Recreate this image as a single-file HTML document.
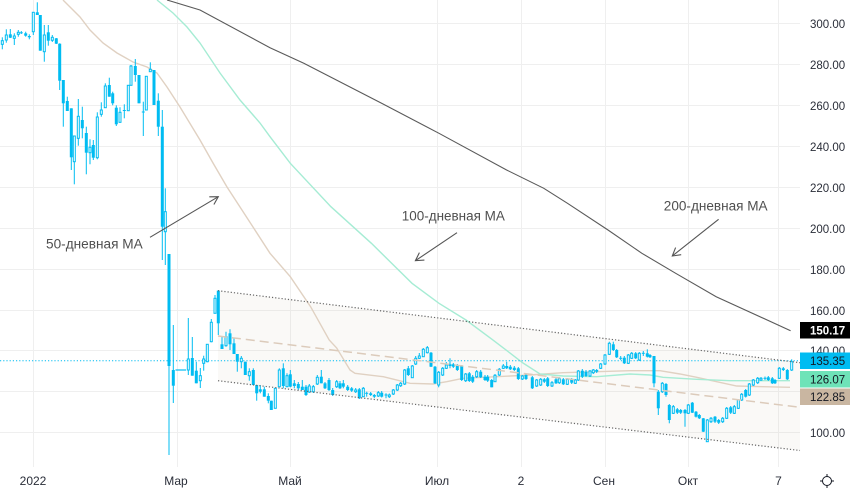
<!DOCTYPE html>
<html><head><meta charset="utf-8">
<style>
html,body{margin:0;padding:0;background:#fff;}
svg{display:block;font-family:"Liberation Sans","DejaVu Sans",sans-serif;}
</style></head>
<body>
<svg id="c" width="850" height="490" viewBox="0 0 850 490" xmlns="http://www.w3.org/2000/svg">
<rect width="850" height="490" fill="#fff"/>
<g stroke="#efefef" stroke-width="1">
<line x1="0" y1="23.5" x2="800" y2="23.5"/><line x1="0" y1="64.5" x2="800" y2="64.5"/>
<line x1="0" y1="105.5" x2="800" y2="105.5"/><line x1="0" y1="146.5" x2="800" y2="146.5"/>
<line x1="0" y1="187.5" x2="800" y2="187.5"/><line x1="0" y1="228.5" x2="800" y2="228.5"/>
<line x1="0" y1="269.5" x2="800" y2="269.5"/><line x1="0" y1="310.5" x2="800" y2="310.5"/>
<line x1="0" y1="350.5" x2="800" y2="350.5"/><line x1="0" y1="391.5" x2="800" y2="391.5"/>
<line x1="0" y1="432.5" x2="800" y2="432.5"/>
<line x1="33.5" y1="0" x2="33.5" y2="467"/><line x1="177.5" y1="0" x2="177.5" y2="467"/>
<line x1="290.5" y1="0" x2="290.5" y2="467"/><line x1="437.5" y1="0" x2="437.5" y2="467"/>
<line x1="521.5" y1="0" x2="521.5" y2="467"/><line x1="605.5" y1="0" x2="605.5" y2="467"/>
<line x1="688.5" y1="0" x2="688.5" y2="467"/><line x1="778.5" y1="0" x2="778.5" y2="467"/>
</g>
<!-- channel -->
<polygon points="218,290.7 800,362.7 800,450.5 218,380.7" fill="rgba(200,185,170,0.09)"/>
<!-- MAs -->
<polyline fill="none" stroke="#e0d1c2" stroke-width="1.4" points="63,0 80,17 90,30 103,43 117,53 133,62 147,67 157,73 167,87 180,107 200,140 213,163 227,187 240,207 253,227 270,253.3 290.3,276.7 310.6,306.7 329.2,340 336.7,348 350,370 355,373.3 383.3,376.7 410,383.3 433,384 446.7,381.7 463,378.3 496.7,376.7 530,375 563,372.7 596.7,371.7 630,370.7 660,370.7 680,374 696.7,377.3 716.7,381.7 736.7,386 763.3,386.7 790,387.3"/>
<polyline fill="none" stroke="#a6ecd4" stroke-width="1.4" points="157,0 173,13 187,27 200,43 220,73 240,100 260,123 270,136.7 290.3,163.3 330.9,206.7 371.4,243.3 412,283.3 439,303.3 466,320 493,340 523,363 540,374 563,376 596.7,376.7 630,374 650,375 663,377.3 696.7,379.3 730,380.7 790,380.7"/>
<polyline fill="none" stroke="#5a5a5a" stroke-width="1.1" points="167,0 200,10 270,47.7 303.8,63.3 381.6,103.3 439,133.3 506.6,170 543.8,188.3 567.5,203.3 608,230 641.9,253.3 675.7,273.3 716.2,296.7 790.6,330.7"/>
<!-- price line -->
<line x1="0" y1="360.7" x2="800" y2="360.7" stroke="#00bcf2" stroke-width="1" stroke-dasharray="1.2 2"/>
<g id="candles"></g>
<!-- channel lines -->
<line x1="218" y1="290.7" x2="800" y2="362.7" stroke="#666" stroke-width="1.2" stroke-dasharray="1.2 2"/>
<line x1="218" y1="380.7" x2="800" y2="450.5" stroke="#666" stroke-width="1.2" stroke-dasharray="1.2 2"/>
<line x1="218" y1="336" x2="800" y2="407.3" stroke="#dccbbb" stroke-width="1.5" stroke-dasharray="9 5"/>
<!-- annotations -->
<g fill="#4f4f4f" font-size="13.5">
<text x="46" y="248.5" textLength="96.7" lengthAdjust="spacingAndGlyphs">50-дневная МА</text>
<text x="401.8" y="220.7" textLength="103" lengthAdjust="spacingAndGlyphs">100-дневная МА</text>
<text x="663.8" y="210.7" textLength="103.8" lengthAdjust="spacingAndGlyphs">200-дневная МА</text>
</g>
<g stroke="#555" stroke-width="1.1" fill="none">
<line x1="150" y1="237.3" x2="218.3" y2="196.7"/><polyline points="209.3,196.8 218.3,196.7 213.9,204.5"/>
<line x1="457" y1="232.7" x2="415.4" y2="260.7"/><polyline points="424.4,260.1 415.4,260.7 419.4,252.6"/>
<line x1="718.6" y1="219.3" x2="672.3" y2="256"/><polyline points="681.2,254.7 672.3,256 675.6,247.6"/>
</g>
<!-- price axis -->
<g fill="#2a2e39" font-size="11.5">
<text x="810" y="28">300.00</text><text x="810" y="69">280.00</text>
<text x="810" y="110">260.00</text><text x="810" y="151">240.00</text>
<text x="810" y="192">220.00</text><text x="810" y="233">200.00</text>
<text x="810" y="274">180.00</text><text x="810" y="315">160.00</text>
<text x="810" y="355">140.00</text><text x="810" y="437">100.00</text>
</g>
<rect x="800" y="322" width="50" height="16.5" fill="#000"/>
<text x="810" y="334.5" fill="#fff" font-size="11.5" font-weight="bold">150.17</text>
<rect x="800" y="352.5" width="50" height="16.5" fill="#00bcf2"/>
<text x="810" y="365" fill="#131722" font-size="11.5">135.35</text>
<rect x="800" y="371" width="50" height="16.5" fill="#6ee3b8"/>
<text x="810" y="383.5" fill="#131722" font-size="11.5">126.07</text>
<rect x="800" y="388.5" width="50" height="16.5" fill="#c9b6a1"/>
<text x="810" y="401" fill="#131722" font-size="11.5">122.85</text>
<!-- time axis -->
<g fill="#2a2e39" font-size="12" text-anchor="middle">
<text x="33" y="485">2022</text><text x="176" y="485">Мар</text>
<text x="290" y="485">Май</text><text x="437" y="485">Июл</text>
<text x="521" y="485">2</text><text x="604" y="485">Сен</text>
<text x="688" y="485">Окт</text><text x="778.5" y="485">7</text>
</g>
<g stroke="#131722" stroke-width="1" fill="none">
<circle cx="827" cy="481" r="4.5"/>
<line x1="827" y1="474" x2="827" y2="476.5"/><line x1="827" y1="485.5" x2="827" y2="488"/>
<line x1="820" y1="481" x2="822.5" y2="481"/><line x1="831.5" y1="481" x2="834" y2="481"/>
</g>
</svg>
<script>
var D=[
[2.3,40.7,44.3,37.3,49.3,0],[6.3,35,40,29.3,42.7,0],[10.3,34.3,37.7,29,38,1],[14.3,36,38.3,33.3,45,0],
[18.3,32.3,34.3,30,36.7,0],[21.3,32.3,33.3,31,34,1],[25.7,33.3,35.7,31.7,36.7,1],[29.3,36,37.3,34.3,39.3,1],
[33.3,12.3,31.7,12.3,35,0],[37.3,12.3,15,2.3,15,1],[40.3,15,50.7,15,50.7,1],[44.3,35,51.7,25,61.7,0],
[48.3,32.3,40.7,25,45.7,1],[52.3,37.3,40.3,35,42,0],[56.3,38.3,43.7,38,44,1],[59.7,43.7,80.7,43.3,90,1],
[63.3,80,103.3,80,126.7,1],[67.3,101,111,96.7,111,1],[71.3,108.3,157.3,108.3,170,1],[74.3,136,161.7,136,184.3,0],
[78.3,116.3,138.3,99,145.7,0],[82.3,120,128.3,106.7,138.3,1],[86.3,133,152.7,126.7,174.3,1],[90,147.3,152.7,139.3,164.3,0],
[93.3,145,157.7,140,160,1],[97.3,117,157.7,112.3,159.3,0],[101.3,110,114.3,102.3,116.7,0],[105.3,86,107.7,83.3,107.7,0],
[109.3,85,96.7,77.7,96.7,1],[112.7,93.3,103.3,91.7,105.3,1],[116.3,107.7,124.3,105.3,126,1],[120,112.3,122.3,107.3,122.7,0],
[124.3,110,111,104.3,118.3,1],[128.3,85.3,110.7,85.3,110.7,0],[131,66,85.3,65,85.3,0],[135.3,66,75,59,81.7,1],
[139,75,103.3,75,103.3,1],[143.3,111.5,112.5,101.7,136,1],[146.3,76.3,110,76.3,110,0],[150.3,69.3,71.7,62.3,71.7,0],
[154,70,105,70,105,1],[158.3,100.7,126.7,93.3,136,1],[162.3,126.7,226.7,110,260,1],[165.3,211.7,231.7,188.3,265,0],
[169,254,366,254,455,1],[173.3,370,385.7,325,403,1],
[188.3,359,370,318,375,0],[192.3,358,375.7,337,375.7,1],[196.3,370.7,383.3,361.7,383.3,1],[200.3,375.7,380.7,368,388,0],
[203.7,359,363.3,355.7,370.7,0],[207.3,344.3,361.7,344.3,362.3,0],[211.3,322.3,341.7,319,342.3,0],[215,298.3,313.3,295,313.3,0],
[218.3,290.7,323.3,290,335,1],[222,344.3,349,336,349,1],[226,336.7,345.7,331.7,346.7,0],[230,333.3,344.3,329.3,350,1],
[234,343.3,354,338.3,354,1],[237.3,354,361.7,354,371.7,1],[241.3,358.3,361.7,356,368.3,0],[245.3,361.7,375,361.7,375,1],
[249.3,371.7,375.7,368.3,380.7,0],[253.3,370,385,368.3,385,1],[256.7,385,393.3,385,400.7,1],[260.3,389.3,391.7,385,393.3,1],
[264.3,389.3,396.7,386.7,396.7,1],[268.3,396,400.7,393.3,403.3,1],[271.3,400.7,410,400.7,410,1],[275.3,388.3,408.3,388.3,408.3,0],
[279.3,370,386.7,368.3,387.3,0],[283.3,368.3,386,363.3,388.3,1],[287,375.7,386.7,373.3,387.3,0],[290.3,374.3,386.7,370,387.3,1],
[294.3,383.3,386,380,388.3,1],[298.3,384,388.3,382,390,1],[302.3,386.7,390,380,390,1],[306,386.7,395,385,396,1],
[309.3,386,392,384,393,0],[313.3,386.7,391.7,385,393,0],[317.3,377.3,384,375,385,0],[321.3,376.7,383.3,370,383.3,1],
[325,383.3,388.3,382,389,1],[329,380,390,378,391,1],
[332.7,390,395,388,396,1],[336.7,381.7,386.7,380,388,0],[340,383.3,388.3,381,389,1],[343.3,383.3,386.7,380,388.3,1],
[347.7,386.7,390,385,391,1],[351.7,388.3,390.7,387,392,1],[355.7,390,391.7,388,393,0],[359.3,389.3,398.3,388,399,1],
[363.3,388.3,396.7,387,397,0],[366.7,392.8,393.8,391.7,396.7,1],[370.7,393.3,395,392,396,1],[374.3,395,396.7,394,398,1],
[378.3,392.7,396,391,397,0],[381.7,392.7,396.7,391,397.5,1],[386,394.5,395.5,393.3,398.3,1],[389.3,395,396.7,393.5,398,0],
[393.3,390,394,389,395,0],[397.3,385,390,384,391,0],[400.7,383.3,385.7,382,387,0],[404.7,370,384,369,385,0],
[408.3,368.3,375,366,376,1],[412.3,366,377.7,365,378,0],[415.7,358.3,364,356,365,0],[419.3,356,358.3,353,359,0],
[423.3,349.3,356.7,348,357,0],[427.3,347.7,352.7,346,353.5,0],[431,352.7,366.7,352,367,1],[435,366.7,383.3,366,384,1],
[438.7,372.3,385,371,387.3,0],[442.7,368.3,375,367,376,0],[446.3,365,368.3,362,369,0],
[450,364.3,366,358.3,368.3,1],[453.3,364.3,366.7,363,368,1],[457.3,365,370,364,371,1],[461.7,365.7,380,365,381,1],
[465.7,374,380.7,373,382,0],[469.3,373.3,381,372,382,1],[472.7,376.7,381.7,375,383,1],[476.7,371.7,376.7,370,378,0],
[480.7,371.7,377.3,370,378,1],[485,376.7,380,375,381,1],[487.7,376.7,380.7,375,382,1],[491.7,380,387.3,379,387.3,1],
[495,375.3,381.7,374,382,0],[499.3,369.3,375,368,376,0],[503.3,366,368.3,364,369,0],[506.7,366,368.3,361.7,369,1],
[510.3,366.7,369.3,365,370,1],[514.3,367.7,370,366,371,1],[518.3,368.3,379,367,380,1],[522.3,376,379,375,380,0],
[526,375,379,374,380,1],[532.3,377.3,388.3,376,389,1],[536.7,380,386,379,387,0],[540.7,379.3,385,378,386,0],
[544.3,379.3,381.7,378,383,1],[547.7,378.3,386,377,387,1],[552,382.7,386,381,387,0],[556,379.3,383.3,378,384,1],
[559.3,378.7,382.7,377,384,0],[563.3,379.3,384.3,378,385,1],[567.3,379.3,384.3,378,385,0],[571.7,379.3,382.7,378,384,1],
[575.3,380,383.3,379,384,0],[578.3,371,380,370,381,0],[582.3,370.7,376.7,369,378,1],[586,371.7,376,370,377,1],
[590,371,376,370,377,0],[593.3,370,372.7,369,374,0],[596.7,370,371.7,369,373,1],[600.7,364,368.3,363,369,0],
[605,355,364,354,365,0],[609.3,343.3,354.3,341.7,355,0],[613.3,344.3,350,341.7,351,1],[616.7,350,357.3,349,358,1],
[620.7,357.8,358.8,356,360,1],[624.3,357.7,363.3,356,364,1],[628.3,355,363.3,354,364,0],[631.7,353.3,358.3,352,359,0],
[635.7,353.3,358.3,352,359,1],[639.3,353.3,360,352,361,0],[643.3,352.8,353.8,351,356,1],[647.3,353.3,356.7,349.3,357.5,1],
[650,355,357.3,354,358,1],[654,356,383.3,356,387.3,1],[658.3,391.7,408.3,390,415,1],[662.3,383.3,391.7,382,393,0],
[666,384,395,383,396.7,1],[669.3,405,420,404,423.3,1],[673.3,406.7,413.3,405,414,0],[677.3,409.3,412.7,408,414,1],
[680.7,410,412.7,409,414,1],[685,410,413.3,409,426.7,1],[688.3,405,413.3,404,414,0],[692.3,402.7,412.7,402,413,1],
[696,411.7,416.7,411,417.5,1],[699.3,415,418.3,414,419,1],[703.3,418.3,431.7,418,432,1],[707.3,420,441.7,419,442,0],
[711,418.3,421.7,417,423,0],[715,416.7,421.7,416,423,1],[718.7,420,422.7,419,424,1],[722.7,418.3,421.7,417,423,0],
[726.7,408.3,418.3,407,419,0],[730.7,407.3,412.7,406,414,1],[734.3,406.7,413.3,405,414,0],[738.3,400,408.3,399,409,0],
[741.7,394.3,400,393,401,0],[745.7,390,396.7,389,397.5,1],[749.3,384,395,383,396,0],[753.3,380,385,379,386,0],
[757.7,378.3,382.7,377,384,0],[761,378.3,380,377,381,0],[765,377.8,378.8,376.5,380,1],[768.3,377.3,380,376,381,1],
[772.3,378.3,383.3,377,384,1],[775,380,383.3,379,384,1],[779.3,368.3,378.3,367,379,0],[783.3,368.3,370,367,371,1],
[787.3,370,379.3,369,380,1],[791.7,361.7,370,359.3,371,0]
];
var g=document.getElementById('candles'),C='#00bcf2',s='';
for(var i=0;i<D.length;i++){var d=D[i],x=d[0];
 s+='<line x1="'+x+'" y1="'+d[3]+'" x2="'+x+'" y2="'+d[4]+'" stroke="'+C+'" stroke-width="1"/>';
 var h=Math.max(d[2]-d[1],1);
 if(d[5]){s+='<rect x="'+(x-1.5)+'" y="'+d[1]+'" width="3" height="'+h+'" fill="'+C+'"/>';}
 else{s+='<rect x="'+(x-1)+'" y="'+d[1]+'" width="2" height="'+h+'" fill="#fff" stroke="'+C+'" stroke-width="1"/>';}
}
s+='<line x1="175.5" y1="370" x2="186" y2="370" stroke="'+C+'" stroke-width="1.2"/>';
g.innerHTML=s;
</script>
</body></html>
